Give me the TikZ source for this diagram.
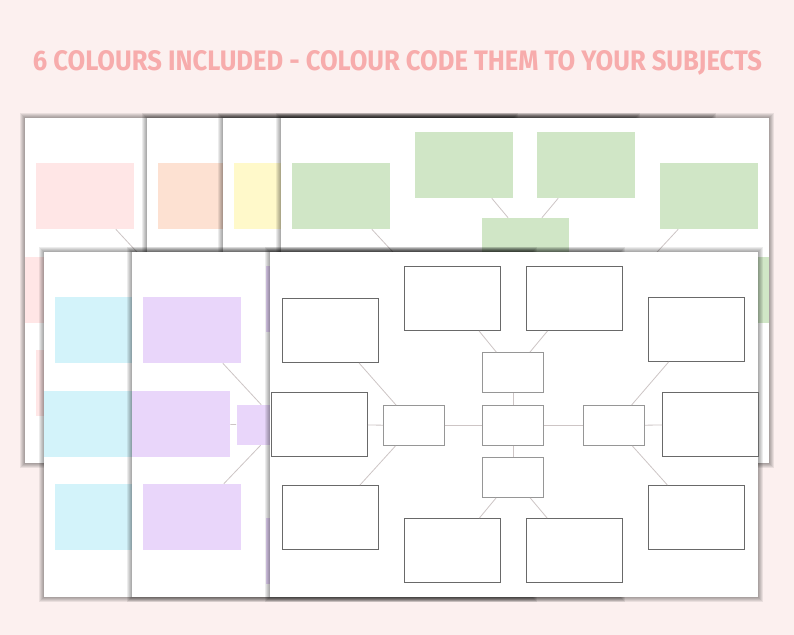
\documentclass[tikz,border=0pt]{standalone}
\usepackage{fontspec}
\usepackage{graphicx}
\newfontfamily\titlefont{Fira Sans}[BoldFont={* Bold}]
\definecolor{bgpink}{RGB}{252,240,239}
\definecolor{titlepink}{RGB}{247,172,172}
\definecolor{cpink}{RGB}{255,230,230}
\definecolor{corange}{RGB}{253,225,210}
\definecolor{cyellow}{RGB}{255,249,202}
\definecolor{cgreen}{RGB}{208,230,198}
\definecolor{cblue}{RGB}{211,243,250}
\definecolor{cpurple}{RGB}{233,214,250}
\definecolor{boxline}{RGB}{105,105,105}
\definecolor{hubline}{RGB}{150,150,150}
\definecolor{connline}{RGB}{205,197,197}
\tikzset{
  cbig/.style={rectangle,inner sep=0pt,minimum width=73.5pt,minimum height=49.5pt,draw=none},
  csmall/.style={rectangle,inner sep=0pt,minimum width=65.25pt,minimum height=30pt,draw=none},
  fbig/.style={rectangle,inner sep=0pt,minimum width=72pt,minimum height=48pt,draw=boxline,fill=white,line width=0.75pt},
  fsmall/.style={rectangle,inner sep=0pt,minimum width=45.75pt,minimum height=30pt,draw=hubline,fill=white,line width=0.75pt},
  conn/.style={draw=connline,line width=0.6pt},
}
\newcommand\pageshadow[2]{%
  \foreach \i in {1,...,5}{\fill[black,opacity=0.075] ({#1-\i},{#2-\i}) rectangle ({#1+488+\i},{#2+345+\i});}%
}
\newcommand\colpage[4]{%
  \pageshadow{#2}{#3}
  \fill[white] (#2,#3) rectangle ++(488,345);
  \begin{scope}[shift={(#2,#3)}]
    \node[cbig,fill=#4] (#1tl) at (60,78) {};
    \node[cbig,fill=#4] (#1ml) at (49,172) {};
    \node[cbig,fill=#4] (#1bl) at (60,265) {};
    \node[cbig,fill=#4] (#1tcl) at (183,47) {};
    \node[cbig,fill=#4] (#1tcr) at (305,47) {};
    \node[cbig,fill=#4] (#1bcl) at (183,299) {};
    \node[cbig,fill=#4] (#1bcr) at (305,299) {};
    \node[cbig,fill=#4] (#1tr) at (428,78) {};
    \node[cbig,fill=#4] (#1mr) at (439,172) {};
    \node[cbig,fill=#4] (#1br) at (428,265) {};
    \node[csmall,fill=#4] (#1lh) at (148,173) {};
    \node[csmall,fill=#4] (#1ct) at (244,120) {};
    \node[csmall,fill=#4] (#1c) at (244,173) {};
    \node[csmall,fill=#4] (#1cb) at (244,225) {};
    \node[csmall,fill=#4] (#1rh) at (340,173) {};
    \draw[conn] (#1tl) -- (#1lh);
    \draw[conn] (#1ml) -- (#1lh);
    \draw[conn] (#1bl) -- (#1lh);
    \draw[conn] (#1lh) -- (#1c);
    \draw[conn] (#1tcl) -- (#1ct);
    \draw[conn] (#1tcr) -- (#1ct);
    \draw[conn] (#1ct) -- (#1c);
    \draw[conn] (#1c) -- (#1cb);
    \draw[conn] (#1cb) -- (#1bcl);
    \draw[conn] (#1cb) -- (#1bcr);
    \draw[conn] (#1c) -- (#1rh);
    \draw[conn] (#1rh) -- (#1tr);
    \draw[conn] (#1rh) -- (#1mr);
    \draw[conn] (#1rh) -- (#1br);
  \end{scope}%
}
\begin{document}
\begin{tikzpicture}[x=0.75pt,y=-0.75pt]
  \useasboundingbox (0,0) rectangle (794,635);
  \fill[bgpink] (0,0) rectangle (794,635);
  \node[inner sep=0pt,text=titlepink] (title) at (397.5,63)
    {\resizebox{546.75pt}{15pt}{\titlefont\bfseries 6 COLOURS INCLUDED - COLOUR CODE THEM TO YOUR SUBJECTS}};
  % back row
  \colpage{pk}{25}{118}{cpink}
  \colpage{or}{147}{118}{corange}
  \colpage{ye}{223}{118}{cyellow}
  \colpage{gr}{281}{118}{cgreen}
  % front row
  \colpage{bl}{44}{252}{cblue}
  \colpage{pu}{132}{252}{cpurple}
  % front white page
  \pageshadow{270}{252}
  \fill[white] (270,252) rectangle ++(488,345);
  \begin{scope}[shift={(270,252)}]
    \node[fbig] (tl) at (60.5,78.5) {};
    \node[fbig] (ml) at (49.5,172.5) {};
    \node[fbig] (bl) at (60.5,265.5) {};
    \node[fbig] (tcl) at (182.5,46.5) {};
    \node[fbig] (tcr) at (304.5,46.5) {};
    \node[fbig] (bcl) at (182.5,298.5) {};
    \node[fbig] (bcr) at (304.5,298.5) {};
    \node[fbig] (tr) at (426.5,77.5) {};
    \node[fbig] (mr) at (440.5,172.5) {};
    \node[fbig] (br) at (426.5,265.5) {};
    \node[fsmall] (lh) at (144,173.5) {};
    \node[fsmall] (ct) at (243,120.5) {};
    \node[fsmall] (c) at (243,173.5) {};
    \node[fsmall] (cb) at (243,225.5) {};
    \node[fsmall] (rh) at (344,173.5) {};
    \draw[conn] (tl) -- (lh);
    \draw[conn] (ml) -- (lh);
    \draw[conn] (bl) -- (lh);
    \draw[conn] (lh) -- (c);
    \draw[conn] (tcl) -- (ct);
    \draw[conn] (tcr) -- (ct);
    \draw[conn] (ct) -- (c);
    \draw[conn] (c) -- (cb);
    \draw[conn] (cb) -- (bcl);
    \draw[conn] (cb) -- (bcr);
    \draw[conn] (c) -- (rh);
    \draw[conn] (rh) -- (tr);
    \draw[conn] (rh) -- (mr);
    \draw[conn] (rh) -- (br);
  \end{scope}
\end{tikzpicture}
\end{document}
